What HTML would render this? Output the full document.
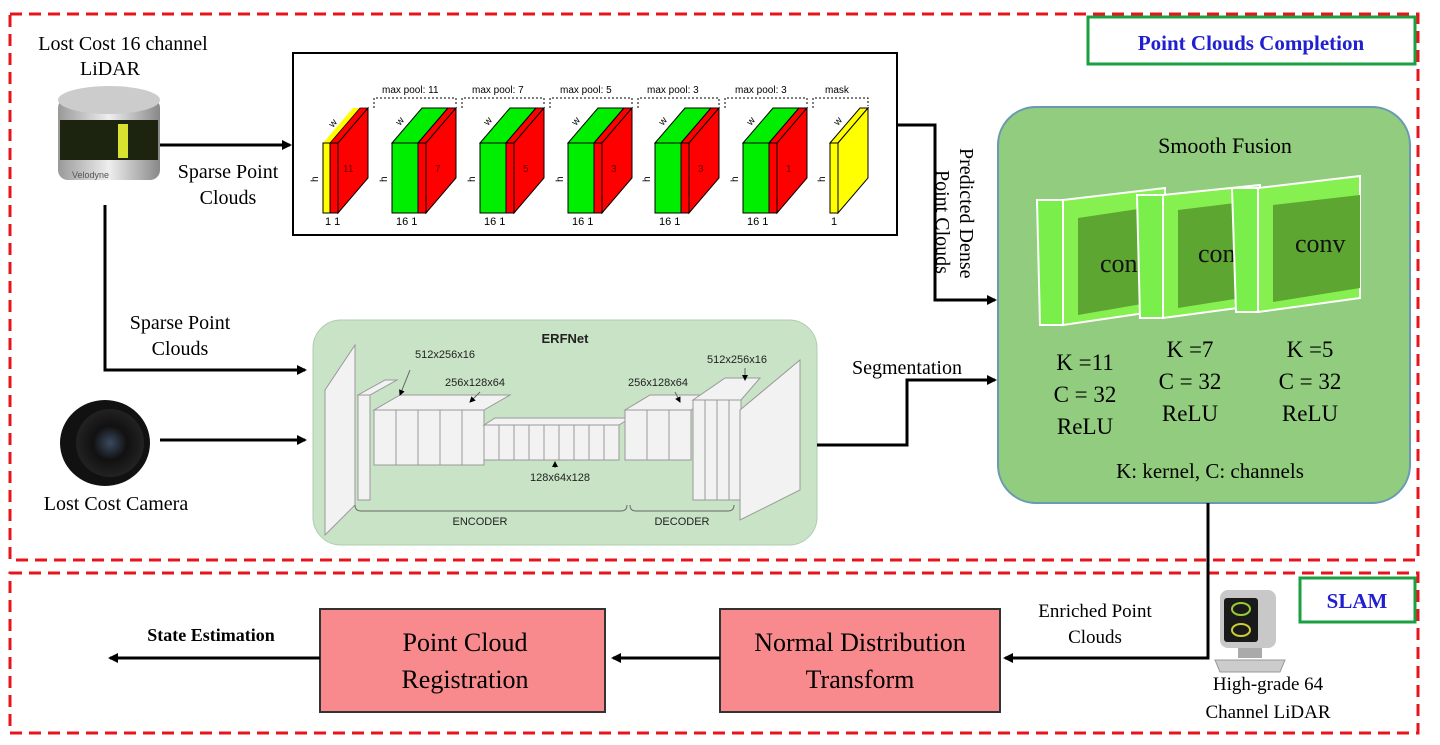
<!DOCTYPE html>
<html><head><meta charset="utf-8"><style>
html,body{margin:0;padding:0;background:#fff;}
svg{display:block;font-family:"Liberation Serif",serif;}
.ss{font-family:"Liberation Sans",sans-serif;}
</style></head><body>
<svg width="1440" height="745" viewBox="0 0 1440 745" xmlns="http://www.w3.org/2000/svg">
<defs>
<marker id="ar" markerWidth="10" markerHeight="10" refX="8" refY="5" orient="auto" markerUnits="userSpaceOnUse"><path d="M0,0 L10,5 L0,10 z" fill="#000"/></marker>
<marker id="as" markerWidth="6" markerHeight="6" refX="5" refY="3" orient="auto" markerUnits="userSpaceOnUse"><path d="M0,0 L6,3 L0,6 z" fill="#000"/></marker>
<radialGradient id="cam" cx="50%" cy="50%" r="50%"><stop offset="0" stop-color="#3a4a60"/><stop offset="0.5" stop-color="#111"/><stop offset="1" stop-color="#222"/></radialGradient>
<linearGradient id="cyl" x1="0" x2="1"><stop offset="0" stop-color="#999"/><stop offset="0.5" stop-color="#eee"/><stop offset="1" stop-color="#888"/></linearGradient>
</defs>

<rect x="10" y="14" width="1408" height="546" fill="none" stroke="#e8141c" stroke-width="3" stroke-dasharray="12,7"/>
<rect x="10" y="573" width="1408" height="160" fill="none" stroke="#e8141c" stroke-width="3" stroke-dasharray="12,7"/>
<rect x="1088" y="17" width="327" height="47" fill="#fff" stroke="#1aa040" stroke-width="3"/>
<text x="1251" y="50" text-anchor="middle" font-size="21" font-weight="bold" fill="#2020d0">Point Clouds Completion</text>
<rect x="1300" y="578" width="115" height="44" fill="#fff" stroke="#1aa040" stroke-width="3"/>
<text x="1357" y="608" text-anchor="middle" font-size="21" font-weight="bold" fill="#2020d0">SLAM</text>

<!-- LiDAR 16 -->
<text x="123" y="50" text-anchor="middle" font-size="20">Lost Cost 16 channel</text>
<text x="110" y="75" text-anchor="middle" font-size="20">LiDAR</text>
<rect x="58" y="98" width="102" height="82" rx="10" fill="url(#cyl)"/>
<ellipse cx="109" cy="100" rx="51" ry="14" fill="#ccc"/>
<rect x="60" y="120" width="98" height="40" fill="#1c2410"/>
<rect x="118" y="124" width="10" height="34" fill="#d8e030"/>
<text x="72" y="178" font-size="9" fill="#555" class="ss">Velodyne</text>

<!-- Camera -->
<ellipse cx="105" cy="443" rx="45" ry="43" fill="#111"/>
<ellipse cx="110" cy="443" rx="34" ry="34" fill="url(#cam)"/>
<text x="116" y="510" text-anchor="middle" font-size="20">Lost Cost Camera</text>

<line x1="160" y1="145" x2="290" y2="145" stroke="#000" stroke-width="3" marker-end="url(#ar)"/>
<text x="228" y="178" text-anchor="middle" font-size="20">Sparse Point</text>
<text x="228" y="204" text-anchor="middle" font-size="20">Clouds</text>
<polyline points="105,205 105,370 305,370" fill="none" stroke="#000" stroke-width="3" marker-end="url(#ar)"/>
<text x="180" y="329" text-anchor="middle" font-size="20">Sparse Point</text>
<text x="180" y="355" text-anchor="middle" font-size="20">Clouds</text>
<line x1="160" y1="440" x2="305" y2="440" stroke="#000" stroke-width="3" marker-end="url(#ar)"/>

<!-- CNN box -->
<rect x="293" y="53" width="604" height="182" fill="#fff" stroke="#000" stroke-width="2"/>
<g class="ss" font-size="10">
<polygon points="323,143 353,108 360,108 330,143" fill="#ff0"/>
<rect x="323" y="143" width="7" height="70" fill="#ff0" stroke="#000" stroke-width="1"/>
<polygon points="330,143 360,108 368,108 338,143" fill="#f00" stroke="#000" stroke-width="0.8"/>
<rect x="330" y="143" width="8" height="70" fill="#f00" stroke="#000" stroke-width="1"/>
<polygon points="338,143 368,108 368,178 338,213" fill="#f00" stroke="#000" stroke-width="1"/>
<text x="318" y="182" transform="rotate(-90 318 182)">h</text>
<text x="333" y="128" transform="rotate(-50 333 128)">w</text>
<text x="325" y="225" font-size="11">1 1</text>
<text x="343" y="172" font-size="10" fill="#600">11</text>
</g>
<g class="ss" font-size="10">
<g>
<polygon points="392,143 422,108 448,108 418,143" fill="#0e0" stroke="#000"/>
<rect x="392" y="143" width="26" height="70" fill="#0e0" stroke="#000"/>
<polygon points="418,143 448,108 456,108 426,143" fill="#f00" stroke="#000"/>
<rect x="418" y="143" width="8" height="70" fill="#f00" stroke="#000"/>
<polygon points="426,143 456,108 456,178 426,213" fill="#f00" stroke="#000"/>
<text x="387" y="182" transform="rotate(-90 387 182)">h</text>
<text x="400" y="126" transform="rotate(-50 400 126)">w</text>
<text x="396" y="225" font-size="11">16  1</text>
<text x="435" y="172" fill="#600">7</text>
</g>
<g transform="translate(88,0)">
<polygon points="392,143 422,108 448,108 418,143" fill="#0e0" stroke="#000"/>
<rect x="392" y="143" width="26" height="70" fill="#0e0" stroke="#000"/>
<polygon points="418,143 448,108 456,108 426,143" fill="#f00" stroke="#000"/>
<rect x="418" y="143" width="8" height="70" fill="#f00" stroke="#000"/>
<polygon points="426,143 456,108 456,178 426,213" fill="#f00" stroke="#000"/>
<text x="387" y="182" transform="rotate(-90 387 182)">h</text>
<text x="400" y="126" transform="rotate(-50 400 126)">w</text>
<text x="396" y="225" font-size="11">16  1</text>
<text x="435" y="172" fill="#600">5</text>
</g>
<g transform="translate(176,0)">
<polygon points="392,143 422,108 448,108 418,143" fill="#0e0" stroke="#000"/>
<rect x="392" y="143" width="26" height="70" fill="#0e0" stroke="#000"/>
<polygon points="418,143 448,108 456,108 426,143" fill="#f00" stroke="#000"/>
<rect x="418" y="143" width="8" height="70" fill="#f00" stroke="#000"/>
<polygon points="426,143 456,108 456,178 426,213" fill="#f00" stroke="#000"/>
<text x="387" y="182" transform="rotate(-90 387 182)">h</text>
<text x="400" y="126" transform="rotate(-50 400 126)">w</text>
<text x="396" y="225" font-size="11">16  1</text>
<text x="435" y="172" fill="#600">3</text>
</g>
<g transform="translate(263,0)">
<polygon points="392,143 422,108 448,108 418,143" fill="#0e0" stroke="#000"/>
<rect x="392" y="143" width="26" height="70" fill="#0e0" stroke="#000"/>
<polygon points="418,143 448,108 456,108 426,143" fill="#f00" stroke="#000"/>
<rect x="418" y="143" width="8" height="70" fill="#f00" stroke="#000"/>
<polygon points="426,143 456,108 456,178 426,213" fill="#f00" stroke="#000"/>
<text x="387" y="182" transform="rotate(-90 387 182)">h</text>
<text x="400" y="126" transform="rotate(-50 400 126)">w</text>
<text x="396" y="225" font-size="11">16  1</text>
<text x="435" y="172" fill="#600">3</text>
</g>
<g transform="translate(351,0)">
<polygon points="392,143 422,108 448,108 418,143" fill="#0e0" stroke="#000"/>
<rect x="392" y="143" width="26" height="70" fill="#0e0" stroke="#000"/>
<polygon points="418,143 448,108 456,108 426,143" fill="#f00" stroke="#000"/>
<rect x="418" y="143" width="8" height="70" fill="#f00" stroke="#000"/>
<polygon points="426,143 456,108 456,178 426,213" fill="#f00" stroke="#000"/>
<text x="387" y="182" transform="rotate(-90 387 182)">h</text>
<text x="400" y="126" transform="rotate(-50 400 126)">w</text>
<text x="396" y="225" font-size="11">16  1</text>
<text x="435" y="172" fill="#600">1</text>
</g>
<polygon points="830,143 860,108 868,108 838,143" fill="#ff0" stroke="#000"/>
<rect x="830" y="143" width="8" height="70" fill="#ff0" stroke="#000"/>
<polygon points="838,143 868,108 868,178 838,213" fill="#ff0" stroke="#000"/>
<text x="825" y="182" transform="rotate(-90 825 182)">h</text>
<text x="838" y="126" transform="rotate(-50 838 126)">w</text>
<text x="831" y="225" font-size="11">1</text>
<g fill="none" stroke="#000" stroke-width="1" stroke-dasharray="2,2">
<polyline points="374,108 374,98 456,98 456,106"/>
<polyline points="462,108 462,98 544,98 544,106"/>
<polyline points="550,108 550,98 632,98 632,106"/>
<polyline points="638,108 638,98 719,98 719,106"/>
<polyline points="725,108 725,98 807,98 807,106"/>
<polyline points="813,108 813,98 868,98 868,106"/>
</g>
<text x="382" y="93">max pool: 11</text>
<text x="472" y="93">max pool: 7</text>
<text x="560" y="93">max pool: 5</text>
<text x="647" y="93">max pool: 3</text>
<text x="735" y="93">max pool: 3</text>
<text x="825" y="93">mask</text>
</g>

<polyline points="897,125 935,125 935,300 995,300" fill="none" stroke="#000" stroke-width="3" marker-end="url(#ar)"/>
<text x="960" y="148" font-size="20" transform="rotate(90 960 148)">Predicted Dense</text>
<text x="936" y="170" font-size="20" transform="rotate(90 936 170)">Point Clouds</text>

<!-- ERFNet -->
<rect x="313" y="320" width="504" height="225" rx="28" fill="#c9e3c6" stroke="#b0ccb0"/>
<g fill="#f2f2f2" stroke="#999" stroke-width="1">
<polygon points="325,390 355,345 355,505 325,535"/>
<rect x="358" y="395" width="12" height="105"/>
<polygon points="358,395 385,380 397,380 370,395"/>
<rect x="374" y="410" width="22" height="55"/><rect x="396" y="410" width="22" height="55"/><rect x="418" y="410" width="22" height="55"/><rect x="440" y="410" width="22" height="55"/><rect x="462" y="410" width="22" height="55"/>
<polygon points="374,410 400,395 510,395 484,410"/>
<rect x="484" y="425" width="15" height="35"/><rect x="499" y="425" width="15" height="35"/><rect x="514" y="425" width="15" height="35"/><rect x="529" y="425" width="15" height="35"/><rect x="544" y="425" width="15" height="35"/><rect x="559" y="425" width="15" height="35"/><rect x="574" y="425" width="15" height="35"/><rect x="589" y="425" width="15" height="35"/><rect x="604" y="425" width="15" height="35"/>
<polygon points="484,425 495,418 630,418 619,425"/>
<rect x="625" y="410" width="22" height="50"/><rect x="647" y="410" width="22" height="50"/><rect x="669" y="410" width="22" height="50"/>
<polygon points="625,410 650,395 715,395 691,410"/>
<rect x="693" y="400" width="12" height="100"/><rect x="705" y="400" width="12" height="100"/><rect x="717" y="400" width="12" height="100"/><rect x="729" y="400" width="12" height="100"/>
<polygon points="693,400 725,378 760,378 741,400"/>
<polygon points="740,410 800,360 800,490 740,520"/>
</g>
<g class="ss" font-size="11" fill="#222">
<text x="565" y="343" text-anchor="middle" font-weight="bold" font-size="13">ERFNet</text>
<text x="415" y="358">512x256x16</text>
<text x="445" y="386">256x128x64</text>
<text x="628" y="386">256x128x64</text>
<text x="707" y="363">512x256x16</text>
<text x="560" y="481" text-anchor="middle">128x64x128</text>
<text x="480" y="525" text-anchor="middle">ENCODER</text>
<text x="682" y="525" text-anchor="middle">DECODER</text>
</g>
<g fill="none" stroke="#666" stroke-width="1">
<line x1="410" y1="370" x2="400" y2="395" marker-end="url(#as)"/>
<line x1="480" y1="392" x2="470" y2="402" marker-end="url(#as)"/>
<line x1="675" y1="392" x2="680" y2="402" marker-end="url(#as)"/>
<line x1="745" y1="368" x2="745" y2="380" marker-end="url(#as)"/>
<line x1="555" y1="468" x2="555" y2="462" marker-end="url(#as)"/>
<path d="M355,505 q0,6 6,6 h260 q6,0 6,-6"/>
<path d="M630,505 q0,6 6,6 h92 q6,0 6,-6"/>
</g>

<polyline points="817,445 907,445 907,380 995,380" fill="none" stroke="#000" stroke-width="3" marker-end="url(#ar)"/>
<text x="907" y="374" text-anchor="middle" font-size="20">Segmentation</text>

<!-- Smooth Fusion -->
<rect x="998" y="107" width="412" height="396" rx="38" fill="#92cc7e" stroke="#6a9ab0" stroke-width="2"/>
<text x="1225" y="153" text-anchor="middle" font-size="22">Smooth Fusion</text>
<g stroke="#fff" stroke-width="2">
<g>
<polygon points="1037,200 1063,200 1063,325 1040,325" fill="#7aee4a"/>
<polygon points="1063,200 1165,188 1165,310 1063,325" fill="#86f050"/>
<polygon points="1078,218 1165,205 1165,300 1078,315" fill="#5ea632" stroke="none"/>
<text x="1100" y="272" font-size="26" stroke="none" fill="#111">con</text>
</g>
<g>
<polygon points="1137,195 1163,195 1163,318 1140,318" fill="#7aee4a"/>
<polygon points="1163,195 1260,185 1260,305 1163,318" fill="#86f050"/>
<polygon points="1178,210 1260,200 1260,295 1178,308" fill="#5ea632" stroke="none"/>
<text x="1198" y="262" font-size="26" stroke="none" fill="#111">con</text>
</g>
<g>
<polygon points="1232,188 1258,188 1258,312 1236,312" fill="#7aee4a"/>
<polygon points="1258,188 1360,176 1360,298 1258,312" fill="#86f050"/>
<polygon points="1273,205 1360,195 1360,288 1273,302" fill="#5ea632" stroke="none"/>
<text x="1295" y="252" font-size="26" stroke="none" fill="#111">conv</text>
</g>
</g>
<g font-size="23" text-anchor="middle">
<text x="1085" y="370">K =11</text><text x="1085" y="402">C = 32</text><text x="1085" y="434">ReLU</text>
<text x="1190" y="357">K =7</text><text x="1190" y="389">C = 32</text><text x="1190" y="421">ReLU</text>
<text x="1310" y="357">K =5</text><text x="1310" y="389">C = 32</text><text x="1310" y="421">ReLU</text>
</g>
<text x="1210" y="478" text-anchor="middle" font-size="21">K: kernel, C: channels</text>

<polyline points="1208,503 1208,658 1005,658" fill="none" stroke="#000" stroke-width="3" marker-end="url(#ar)"/>
<text x="1095" y="617" text-anchor="middle" font-size="19">Enriched Point</text>
<text x="1095" y="643" text-anchor="middle" font-size="19">Clouds</text>

<!-- HG LiDAR -->
<rect x="1220" y="590" width="56" height="58" rx="8" fill="#c8c8c8"/>
<rect x="1224" y="598" width="34" height="44" rx="3" fill="#1a1a1a"/>
<ellipse cx="1241" cy="609" rx="9" ry="6" fill="none" stroke="#9c3" stroke-width="2"/>
<ellipse cx="1241" cy="630" rx="9" ry="6" fill="none" stroke="#cc3" stroke-width="2"/>
<rect x="1238" y="648" width="24" height="10" fill="#aaa"/>
<polygon points="1215,660 1285,660 1280,672 1220,672" fill="#ccc" stroke="#999"/>
<text x="1268" y="690" text-anchor="middle" font-size="19">High-grade 64</text>
<text x="1268" y="718" text-anchor="middle" font-size="19">Channel LiDAR</text>

<rect x="720" y="609" width="280" height="103" fill="#f88a8e" stroke="#333" stroke-width="2"/>
<text x="860" y="651" text-anchor="middle" font-size="26">Normal Distribution</text>
<text x="860" y="688" text-anchor="middle" font-size="26">Transform</text>
<line x1="720" y1="658" x2="613" y2="658" stroke="#000" stroke-width="3" marker-end="url(#ar)"/>
<rect x="320" y="609" width="285" height="103" fill="#f88a8e" stroke="#333" stroke-width="2"/>
<text x="465" y="651" text-anchor="middle" font-size="26">Point Cloud</text>
<text x="465" y="688" text-anchor="middle" font-size="26">Registration</text>
<line x1="320" y1="658" x2="110" y2="658" stroke="#000" stroke-width="3" marker-end="url(#ar)"/>
<text x="211" y="641" text-anchor="middle" font-size="18" font-weight="bold">State Estimation</text>
</svg>
</body></html>
